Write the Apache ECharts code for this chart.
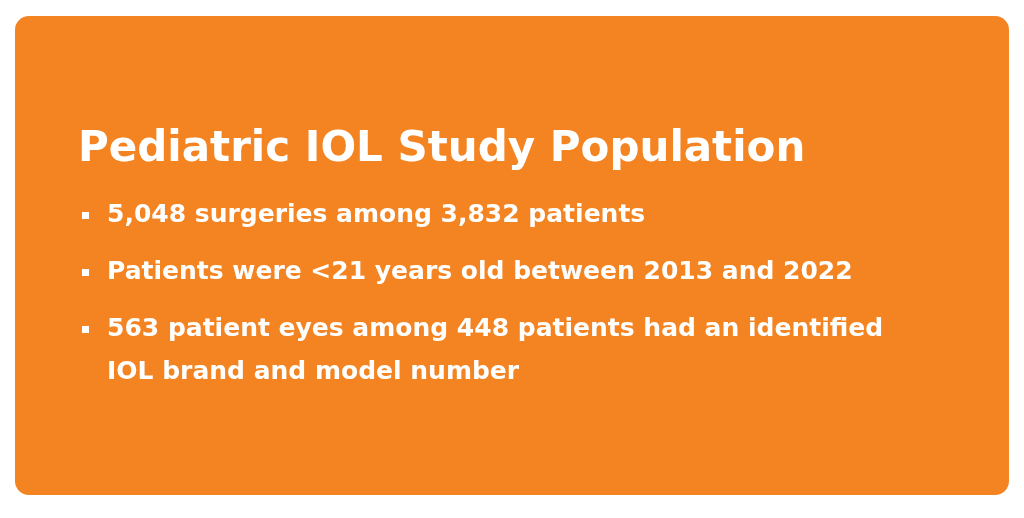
<!DOCTYPE html>
<html><head><meta charset="utf-8">
<script src="https://cdn.jsdelivr.net/npm/echarts@6/dist/echarts.min.js"></script>
<style>html,body{margin:0;padding:0;background:#fff}#c{width:1024px;height:518px}</style>
</head><body><div id="c"></div>
<script>
const titleText = "Pediatric IOL Study Population";
const bulletLines = [
  ["5,048 surgeries among 3,832 patients"],
  ["Patients were <21 years old between 2013 and 2022"],
  ["563 patient eyes among 448 patients had an identified", "IOL brand and model number"]
];
const bulletY = [215, 272, 329];
const lineGap = 43;
const elements = [
  {type:'rect', shape:{x:15,y:16,width:994,height:479,r:14}, style:{fill:'#F48421'}},
  {type:'text', x:78, y:150, style:{text:titleText, fill:'#fff', font:'bold 42px "DejaVu Sans"', textVerticalAlign:'middle'}}
];
bulletLines.forEach((lines,i)=>{
  elements.push({type:'rect', shape:{x:82,y:bulletY[i]-3,width:7,height:7}, style:{fill:'#fff'}});
  lines.forEach((t,j)=>{
    elements.push({type:'text', x:107, y:bulletY[i]+j*lineGap, style:{text:t, fill:'#fff', font:'bold 25px "DejaVu Sans"', textVerticalAlign:'middle'}});
  });
});
const chart = echarts.init(document.getElementById('c'));
chart.setOption({graphic:{elements}});
</script></body></html>
